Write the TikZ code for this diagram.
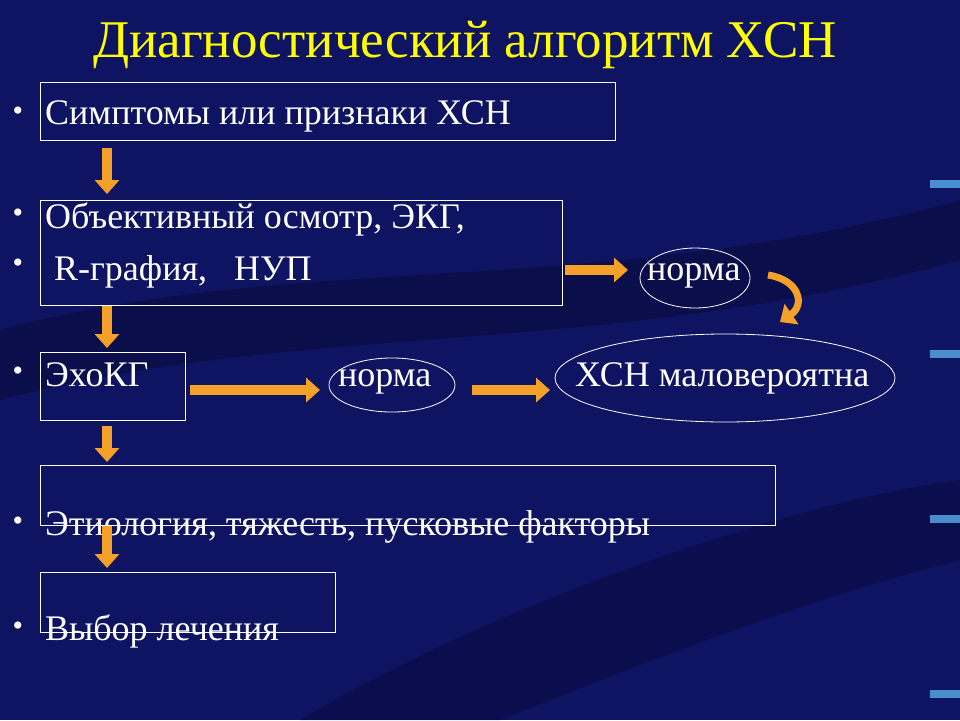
\documentclass[tikz,border=0pt]{standalone}
\usepackage{fontspec}
\setmainfont{Liberation Serif}
\usetikzlibrary{arrows.meta,shapes.geometric}
\definecolor{bg}{RGB}{14,20,98}
\definecolor{bgd}{RGB}{8,10,60}
\definecolor{ttl}{RGB}{255,255,0}
\definecolor{arr}{RGB}{245,160,40}
\tikzset{
  box/.style={draw=white,line width=0.8pt},
  txt/.style={text=white,font=\fontsize{36}{38}\selectfont,anchor=base west,inner sep=0},
  blt/.style={text=white,font=\fontsize{30}{30}\selectfont,anchor=base,inner sep=0},
  oarr/.style={draw=arr,line width=10pt,-{Triangle[width=24pt,length=14pt]}},
  ell/.style={draw=white,line width=0.8pt,ellipse,minimum width=#1}
}
\begin{document}
\begin{tikzpicture}[x=1pt,y=-1pt]
\useasboundingbox (0,0) rectangle (960,720);
\fill[bg] (0,0) rectangle (960,720);
\fill[bgd,opacity=0.6] (0,330) .. controls (300,250) and (600,300) .. (960,200) -- (960,260) .. controls (600,360) and (300,320) .. (0,400) -- cycle;
\fill[bgd,opacity=0.5] (300,720) .. controls (500,600) and (800,500) .. (960,480) -- (960,560) .. controls (800,600) and (600,680) .. (500,720) -- cycle;
\foreach \yy in {180,350,515,690} \fill[blue!40!cyan!60!white,opacity=0.7] (930,\yy) rectangle (960,\yy+8);
\node[text=ttl,font=\fontsize{53}{55}\selectfont] (title) at (465,45) {Диагностический алгоритм ХСН};
% bullets
\foreach \yy/\n in {120/b1,222/b2,272/b3,380/b4,530/b5,635/b6} \node[blt] (\n) at (18,\yy) {•};
% boxes
\draw[box] (40,82) rectangle (615,140);
\node[txt] (t1) at (45,124) {Симптомы или признаки ХСН};
\draw[box] (40,200) rectangle (562,305);
\node[txt] (t2) at (45,228) {Объективный осмотр, ЭКГ,};
\node[txt] (t3) at (45,280) {\ R-графия,\ \ \ НУП};
\draw[box] (40,352) rectangle (185,420);
\node[txt] (t4) at (45,386) {ЭхоКГ};
\draw[box] (40,465) rectangle (775,525);
\node[txt] (t5) at (45,535) {Этиология, тяжесть, пусковые факторы};
\draw[box] (40,572) rectangle (335,632);
\node[txt] (t6) at (45,640) {Выбор лечения};
% ellipses
\node[ell=110pt,minimum height=60pt] (e1) at (695,278) {};
\node[txt] at (647,280) {норма};
\node[ell=126pt,minimum height=54pt] (e2) at (392,385) {};
\node[txt] at (338,386) {норма};
\node[ell=340pt,minimum height=88pt] (e3) at (725,378) {};
\node[txt] at (575,386) {ХСН маловероятна};
% arrows
\coordinate (a1s) at (107,148); \coordinate (a1e) at (107,194);
\coordinate (a2s) at (107,306); \coordinate (a2e) at (107,348);
\coordinate (a3s) at (107,426); \coordinate (a3e) at (107,462);
\coordinate (a4s) at (107,526); \coordinate (a4e) at (107,568);
\draw[oarr] (a1s) -- (a1e);
\draw[oarr] (a2s) -- (a2e);
\draw[oarr] (a3s) -- (a3e);
\draw[oarr] (a4s) -- (a4e);
\coordinate (h1s) at (565,270); \coordinate (h1e) at (628,270);
\coordinate (h2s) at (190,390); \coordinate (h2e) at (320,390);
\coordinate (h3s) at (472,390); \coordinate (h3e) at (550,390);
\draw[oarr] (h1s) -- (h1e);
\draw[oarr] (h2s) -- (h2e);
\draw[oarr] (h3s) -- (h3e);
\coordinate (c1) at (768,275); \coordinate (c2) at (780,322);
\draw[oarr,line width=7pt] (c1) .. controls (800,280) and (805,305) .. (c2);
\end{tikzpicture}
\end{document}
